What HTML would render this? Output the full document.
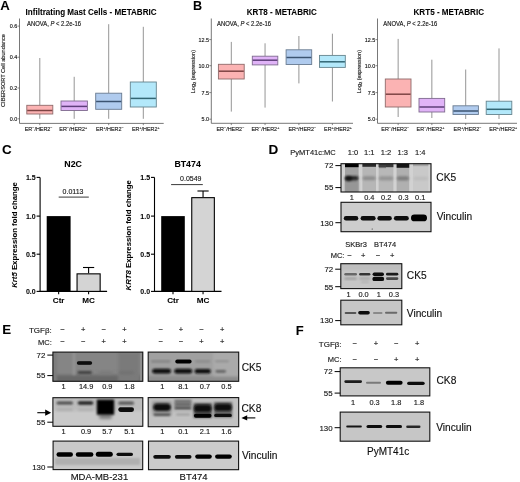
<!DOCTYPE html>
<html><head><meta charset="utf-8"><style>
html,body{margin:0;padding:0;background:#fff;width:520px;height:482px;overflow:hidden}
svg{display:block}
text{stroke:#000;stroke-width:0.22px;stroke-opacity:0.55}
text[font-weight=bold]{stroke-width:0.1px}
</style></head><body>
<svg width="520" height="482" viewBox="0 0 520 482" font-family="'Liberation Sans', Arial, sans-serif">
<defs>
<filter id="b04" x="-50%" y="-50%" width="200%" height="200%"><feGaussianBlur stdDeviation="0.4"/></filter>
<filter id="b07" x="-50%" y="-50%" width="200%" height="200%"><feGaussianBlur stdDeviation="0.7"/></filter>
<filter id="b1" x="-50%" y="-50%" width="200%" height="200%"><feGaussianBlur stdDeviation="1"/></filter>
<filter id="b15" x="-50%" y="-100%" width="200%" height="300%"><feGaussianBlur stdDeviation="1.5"/></filter>
<filter id="b25" x="-50%" y="-100%" width="200%" height="300%"><feGaussianBlur stdDeviation="2.5"/></filter>
</defs>
<rect x="0" y="0" width="520" height="482" fill="#fff" />
<text x="0.3" y="10.2" font-size="13.2" font-weight="bold" >A</text>
<text x="25.6" y="15.2" font-size="8.9" font-weight="bold" textLength="131" lengthAdjust="spacingAndGlyphs" >Infiltrating Mast Cells - METABRIC</text>
<text x="27" y="26.1" font-size="6.5" textLength="54" lengthAdjust="spacingAndGlyphs" fill="#111">ANOVA, <tspan font-style="italic">P</tspan> &lt; 2.2e-16</text>
<line x1="39.8" y1="58" x2="39.8" y2="105.3" stroke="#959595" stroke-width="1.0"/>
<line x1="39.8" y1="114" x2="39.8" y2="118.8" stroke="#959595" stroke-width="1.0"/>
<rect x="26.8" y="105.3" width="25.999999999999996" height="8.700000000000003" fill="#fbb3b3" stroke="#8f6a6a" stroke-width="0.9" />
<line x1="27.2" y1="110.5" x2="52.4" y2="110.5" stroke="#7e4444" stroke-width="1.5"/>
<line x1="74.2" y1="76.8" x2="74.2" y2="101" stroke="#959595" stroke-width="1.0"/>
<line x1="74.2" y1="110.5" x2="74.2" y2="118.8" stroke="#959595" stroke-width="1.0"/>
<rect x="61" y="101" width="26.400000000000006" height="9.5" fill="#e0b3f7" stroke="#7f6a8f" stroke-width="0.9" />
<line x1="61.4" y1="106.4" x2="87.0" y2="106.4" stroke="#5e3e7a" stroke-width="1.5"/>
<line x1="108.7" y1="24.2" x2="108.7" y2="93.2" stroke="#959595" stroke-width="1.0"/>
<line x1="108.7" y1="109.3" x2="108.7" y2="118.8" stroke="#959595" stroke-width="1.0"/>
<rect x="95.7" y="93.2" width="26.0" height="16.099999999999994" fill="#b0cbee" stroke="#687a90" stroke-width="0.9" />
<line x1="96.10000000000001" y1="101.5" x2="121.3" y2="101.5" stroke="#3c5472" stroke-width="1.5"/>
<line x1="143.3" y1="26.8" x2="143.3" y2="82" stroke="#959595" stroke-width="1.0"/>
<line x1="143.3" y1="107" x2="143.3" y2="118.8" stroke="#959595" stroke-width="1.0"/>
<rect x="130.3" y="82" width="26.0" height="25" fill="#b3e8fa" stroke="#65848e" stroke-width="0.9" />
<line x1="130.70000000000002" y1="98.4" x2="155.9" y2="98.4" stroke="#326674" stroke-width="1.5"/>
<line x1="19.5" y1="18.5" x2="19.5" y2="123.4" stroke="#555" stroke-width="0.8"/>
<line x1="19.5" y1="123.4" x2="163.7" y2="123.4" stroke="#555" stroke-width="0.8"/>
<line x1="17.5" y1="26.1" x2="19.5" y2="26.1" stroke="#555" stroke-width="0.7"/>
<text x="17.2" y="28.1" font-size="5.4" text-anchor="end" fill="#111" >0.6</text>
<line x1="17.5" y1="57.2" x2="19.5" y2="57.2" stroke="#555" stroke-width="0.7"/>
<text x="17.2" y="59.2" font-size="5.4" text-anchor="end" fill="#111" >0.4</text>
<line x1="17.5" y1="88" x2="19.5" y2="88" stroke="#555" stroke-width="0.7"/>
<text x="17.2" y="90.0" font-size="5.4" text-anchor="end" fill="#111" >0.2</text>
<line x1="17.5" y1="118.8" x2="19.5" y2="118.8" stroke="#555" stroke-width="0.7"/>
<text x="17.2" y="120.8" font-size="5.4" text-anchor="end" fill="#111" >0.0</text>
<line x1="39.8" y1="123.4" x2="39.8" y2="125.2" stroke="#555" stroke-width="0.7"/>
<text x="38.6" y="131.0" font-size="6.2" text-anchor="middle" textLength="27.8" lengthAdjust="spacingAndGlyphs" fill="#222">ER<tspan dy="-1.9" font-size="4.2">−</tspan><tspan dy="1.9">/HER2</tspan><tspan dy="-1.9" font-size="4.2">−</tspan></text>
<line x1="74.2" y1="123.4" x2="74.2" y2="125.2" stroke="#555" stroke-width="0.7"/>
<text x="73.2" y="131.0" font-size="6.2" text-anchor="middle" textLength="27.8" lengthAdjust="spacingAndGlyphs" fill="#222">ER<tspan dy="-1.9" font-size="4.2">−</tspan><tspan dy="1.9">/HER2</tspan><tspan dy="-1.9" font-size="4.2">+</tspan></text>
<line x1="108.7" y1="123.4" x2="108.7" y2="125.2" stroke="#555" stroke-width="0.7"/>
<text x="109.8" y="131.0" font-size="6.2" text-anchor="middle" textLength="27.8" lengthAdjust="spacingAndGlyphs" fill="#222">ER<tspan dy="-1.9" font-size="4.2">+</tspan><tspan dy="1.9">/HER2</tspan><tspan dy="-1.9" font-size="4.2">−</tspan></text>
<line x1="143.3" y1="123.4" x2="143.3" y2="125.2" stroke="#555" stroke-width="0.7"/>
<text x="145.8" y="131.0" font-size="6.2" text-anchor="middle" textLength="27.8" lengthAdjust="spacingAndGlyphs" fill="#222">ER<tspan dy="-1.9" font-size="4.2">+</tspan><tspan dy="1.9">/HER2</tspan><tspan dy="-1.9" font-size="4.2">+</tspan></text>
<text x="4.9" y="70.5" font-size="5.6" text-anchor="middle" fill="#222" transform="rotate(-90 4.9 70.5)" >CIBERSORT Cell abundance</text>
<text x="193.0" y="10.4" font-size="12.6" font-weight="bold" >B</text>
<text x="246.8" y="14.8" font-size="8.9" font-weight="bold" textLength="70" lengthAdjust="spacingAndGlyphs" >KRT8 - METABRIC</text>
<text x="217" y="26.1" font-size="6.5" textLength="54" lengthAdjust="spacingAndGlyphs" fill="#111">ANOVA, <tspan font-style="italic">P</tspan> &lt; 2.2e-16</text>
<line x1="231.3" y1="41.9" x2="231.3" y2="64.3" stroke="#959595" stroke-width="1.0"/>
<line x1="231.3" y1="79" x2="231.3" y2="111.6" stroke="#959595" stroke-width="1.0"/>
<rect x="218.4" y="64.3" width="25.799999999999983" height="14.700000000000003" fill="#fbb3b3" stroke="#8f6a6a" stroke-width="0.9" />
<line x1="218.8" y1="71.2" x2="243.79999999999998" y2="71.2" stroke="#7e4444" stroke-width="1.5"/>
<line x1="265.05" y1="43.3" x2="265.05" y2="56.2" stroke="#959595" stroke-width="1.0"/>
<line x1="265.05" y1="64.9" x2="265.05" y2="107.6" stroke="#959595" stroke-width="1.0"/>
<rect x="252.3" y="56.2" width="25.5" height="8.700000000000003" fill="#e0b3f7" stroke="#7f6a8f" stroke-width="0.9" />
<line x1="252.70000000000002" y1="60.2" x2="277.40000000000003" y2="60.2" stroke="#5e3e7a" stroke-width="1.5"/>
<line x1="298.9" y1="36" x2="298.9" y2="49.8" stroke="#959595" stroke-width="1.0"/>
<line x1="298.9" y1="64.5" x2="298.9" y2="83.4" stroke="#959595" stroke-width="1.0"/>
<rect x="286.1" y="49.8" width="25.599999999999966" height="14.700000000000003" fill="#b0cbee" stroke="#687a90" stroke-width="0.9" />
<line x1="286.5" y1="57.5" x2="311.3" y2="57.5" stroke="#3c5472" stroke-width="1.5"/>
<line x1="332.4" y1="33.7" x2="332.4" y2="55.4" stroke="#959595" stroke-width="1.0"/>
<line x1="332.4" y1="67.4" x2="332.4" y2="101.5" stroke="#959595" stroke-width="1.0"/>
<rect x="319.5" y="55.4" width="25.80000000000001" height="12.000000000000007" fill="#b3e8fa" stroke="#65848e" stroke-width="0.9" />
<line x1="319.9" y1="61.8" x2="344.90000000000003" y2="61.8" stroke="#326674" stroke-width="1.5"/>
<line x1="211.3" y1="18.5" x2="211.3" y2="123.3" stroke="#555" stroke-width="0.8"/>
<line x1="211.3" y1="123.3" x2="353" y2="123.3" stroke="#555" stroke-width="0.8"/>
<line x1="209.3" y1="39.6" x2="211.3" y2="39.6" stroke="#555" stroke-width="0.7"/>
<text x="209.0" y="41.6" font-size="5.4" text-anchor="end" fill="#111" >12.5</text>
<line x1="209.3" y1="65.7" x2="211.3" y2="65.7" stroke="#555" stroke-width="0.7"/>
<text x="209.0" y="67.7" font-size="5.4" text-anchor="end" fill="#111" >10.0</text>
<line x1="209.3" y1="92.6" x2="211.3" y2="92.6" stroke="#555" stroke-width="0.7"/>
<text x="209.0" y="94.6" font-size="5.4" text-anchor="end" fill="#111" >7.5</text>
<line x1="209.3" y1="119.2" x2="211.3" y2="119.2" stroke="#555" stroke-width="0.7"/>
<text x="209.0" y="121.2" font-size="5.4" text-anchor="end" fill="#111" >5.0</text>
<line x1="231.3" y1="123.3" x2="231.3" y2="125.1" stroke="#555" stroke-width="0.7"/>
<text x="230.4" y="130.9" font-size="6.2" text-anchor="middle" textLength="27.8" lengthAdjust="spacingAndGlyphs" fill="#222">ER<tspan dy="-1.9" font-size="4.2">−</tspan><tspan dy="1.9">/HER2</tspan><tspan dy="-1.9" font-size="4.2">−</tspan></text>
<line x1="265.05" y1="123.3" x2="265.05" y2="125.1" stroke="#555" stroke-width="0.7"/>
<text x="265.4" y="130.9" font-size="6.2" text-anchor="middle" textLength="27.8" lengthAdjust="spacingAndGlyphs" fill="#222">ER<tspan dy="-1.9" font-size="4.2">−</tspan><tspan dy="1.9">/HER2</tspan><tspan dy="-1.9" font-size="4.2">+</tspan></text>
<line x1="298.9" y1="123.3" x2="298.9" y2="125.1" stroke="#555" stroke-width="0.7"/>
<text x="302.3" y="130.9" font-size="6.2" text-anchor="middle" textLength="27.8" lengthAdjust="spacingAndGlyphs" fill="#222">ER<tspan dy="-1.9" font-size="4.2">+</tspan><tspan dy="1.9">/HER2</tspan><tspan dy="-1.9" font-size="4.2">−</tspan></text>
<line x1="332.4" y1="123.3" x2="332.4" y2="125.1" stroke="#555" stroke-width="0.7"/>
<text x="338.0" y="130.9" font-size="6.2" text-anchor="middle" textLength="27.8" lengthAdjust="spacingAndGlyphs" fill="#222">ER<tspan dy="-1.9" font-size="4.2">+</tspan><tspan dy="1.9">/HER2</tspan><tspan dy="-1.9" font-size="4.2">+</tspan></text>
<text x="194.6" y="71.6" font-size="5.5" text-anchor="middle" fill="#222" transform="rotate(-90 194.6 71.6)">Log<tspan dy="1.3" font-size="4">2</tspan><tspan dy="-1.3"> (expression)</tspan></text>
<text x="413.5" y="14.8" font-size="8.9" font-weight="bold" textLength="70.5" lengthAdjust="spacingAndGlyphs" >KRT5 - METABRIC</text>
<text x="383.3" y="26.1" font-size="6.5" textLength="54" lengthAdjust="spacingAndGlyphs" fill="#111">ANOVA, <tspan font-style="italic">P</tspan> &lt; 2.2e-16</text>
<line x1="398.15" y1="38.9" x2="398.15" y2="79" stroke="#959595" stroke-width="1.0"/>
<line x1="398.15" y1="107" x2="398.15" y2="117" stroke="#959595" stroke-width="1.0"/>
<rect x="385.3" y="79" width="25.69999999999999" height="28" fill="#fbb3b3" stroke="#8f6a6a" stroke-width="0.9" />
<line x1="385.7" y1="94.2" x2="410.6" y2="94.2" stroke="#7e4444" stroke-width="1.5"/>
<line x1="431.85" y1="59.7" x2="431.85" y2="98.4" stroke="#959595" stroke-width="1.0"/>
<line x1="431.85" y1="112" x2="431.85" y2="118" stroke="#959595" stroke-width="1.0"/>
<rect x="419" y="98.4" width="25.69999999999999" height="13.599999999999994" fill="#e0b3f7" stroke="#7f6a8f" stroke-width="0.9" />
<line x1="419.4" y1="107" x2="444.3" y2="107" stroke="#5e3e7a" stroke-width="1.5"/>
<line x1="465.7" y1="69.5" x2="465.7" y2="105.8" stroke="#959595" stroke-width="1.0"/>
<line x1="465.7" y1="114.5" x2="465.7" y2="119" stroke="#959595" stroke-width="1.0"/>
<rect x="453" y="105.8" width="25.399999999999977" height="8.700000000000003" fill="#b0cbee" stroke="#687a90" stroke-width="0.9" />
<line x1="453.4" y1="111" x2="478.0" y2="111" stroke="#3c5472" stroke-width="1.5"/>
<line x1="499.0" y1="48.4" x2="499.0" y2="101.2" stroke="#959595" stroke-width="1.0"/>
<line x1="499.0" y1="114.5" x2="499.0" y2="119" stroke="#959595" stroke-width="1.0"/>
<rect x="486.2" y="101.2" width="25.600000000000023" height="13.299999999999997" fill="#b3e8fa" stroke="#65848e" stroke-width="0.9" />
<line x1="486.59999999999997" y1="109.3" x2="511.40000000000003" y2="109.3" stroke="#326674" stroke-width="1.5"/>
<line x1="377.5" y1="18.5" x2="377.5" y2="123.3" stroke="#555" stroke-width="0.8"/>
<line x1="377.5" y1="123.3" x2="517" y2="123.3" stroke="#555" stroke-width="0.8"/>
<line x1="375.5" y1="39.6" x2="377.5" y2="39.6" stroke="#555" stroke-width="0.7"/>
<text x="375.2" y="41.6" font-size="5.4" text-anchor="end" fill="#111" >12.5</text>
<line x1="375.5" y1="65.7" x2="377.5" y2="65.7" stroke="#555" stroke-width="0.7"/>
<text x="375.2" y="67.7" font-size="5.4" text-anchor="end" fill="#111" >10.0</text>
<line x1="375.5" y1="92.6" x2="377.5" y2="92.6" stroke="#555" stroke-width="0.7"/>
<text x="375.2" y="94.6" font-size="5.4" text-anchor="end" fill="#111" >7.5</text>
<line x1="375.5" y1="119.2" x2="377.5" y2="119.2" stroke="#555" stroke-width="0.7"/>
<text x="375.2" y="121.2" font-size="5.4" text-anchor="end" fill="#111" >5.0</text>
<line x1="398.15" y1="123.3" x2="398.15" y2="125.1" stroke="#555" stroke-width="0.7"/>
<text x="395.2" y="130.9" font-size="6.2" text-anchor="middle" textLength="27.8" lengthAdjust="spacingAndGlyphs" fill="#222">ER<tspan dy="-1.9" font-size="4.2">−</tspan><tspan dy="1.9">/HER2</tspan><tspan dy="-1.9" font-size="4.2">−</tspan></text>
<line x1="431.85" y1="123.3" x2="431.85" y2="125.1" stroke="#555" stroke-width="0.7"/>
<text x="430.5" y="130.9" font-size="6.2" text-anchor="middle" textLength="27.8" lengthAdjust="spacingAndGlyphs" fill="#222">ER<tspan dy="-1.9" font-size="4.2">−</tspan><tspan dy="1.9">/HER2</tspan><tspan dy="-1.9" font-size="4.2">+</tspan></text>
<line x1="465.7" y1="123.3" x2="465.7" y2="125.1" stroke="#555" stroke-width="0.7"/>
<text x="467.5" y="130.9" font-size="6.2" text-anchor="middle" textLength="27.8" lengthAdjust="spacingAndGlyphs" fill="#222">ER<tspan dy="-1.9" font-size="4.2">+</tspan><tspan dy="1.9">/HER2</tspan><tspan dy="-1.9" font-size="4.2">−</tspan></text>
<line x1="499.0" y1="123.3" x2="499.0" y2="125.1" stroke="#555" stroke-width="0.7"/>
<text x="503.2" y="130.9" font-size="6.2" text-anchor="middle" textLength="27.8" lengthAdjust="spacingAndGlyphs" fill="#222">ER<tspan dy="-1.9" font-size="4.2">+</tspan><tspan dy="1.9">/HER2</tspan><tspan dy="-1.9" font-size="4.2">+</tspan></text>
<text x="360.6" y="71.6" font-size="5.5" text-anchor="middle" fill="#222" transform="rotate(-90 360.6 71.6)">Log<tspan dy="1.3" font-size="4">2</tspan><tspan dy="-1.3"> (expression)</tspan></text>
<text x="2.0" y="154.2" font-size="13.4" font-weight="bold" >C</text>
<text x="73.1" y="167" font-size="8.8" font-weight="bold" text-anchor="middle" >N2C</text>
<line x1="40.1" y1="177.4" x2="40.1" y2="291.6" stroke="#000" stroke-width="1.1"/>
<line x1="39.6" y1="291.4" x2="107.1" y2="291.4" stroke="#000" stroke-width="1.1"/>
<line x1="36.6" y1="177.4" x2="40.1" y2="177.4" stroke="#000" stroke-width="1.1"/>
<text x="35.7" y="179.9" font-size="7" font-weight="bold" text-anchor="end" >1.5</text>
<line x1="36.6" y1="216.1" x2="40.1" y2="216.1" stroke="#000" stroke-width="1.1"/>
<text x="35.7" y="218.6" font-size="7" font-weight="bold" text-anchor="end" >1.0</text>
<line x1="36.6" y1="254.2" x2="40.1" y2="254.2" stroke="#000" stroke-width="1.1"/>
<text x="35.7" y="256.7" font-size="7" font-weight="bold" text-anchor="end" >0.5</text>
<line x1="36.6" y1="291.4" x2="40.1" y2="291.4" stroke="#000" stroke-width="1.1"/>
<text x="35.7" y="293.9" font-size="7" font-weight="bold" text-anchor="end" >0.0</text>
<rect x="46.7" y="216.1" width="23.89999999999999" height="75.29999999999998" fill="#000" />
<line x1="88.6" y1="273.3" x2="88.6" y2="267.5" stroke="#000" stroke-width="1.1"/>
<line x1="83.0" y1="267.5" x2="94.19999999999999" y2="267.5" stroke="#000" stroke-width="1.1"/>
<rect x="77.05" y="273.85" width="23.1" height="17.549999999999965" fill="#d4d4d4" stroke="#000" stroke-width="1.1" />
<line x1="58.65" y1="291.4" x2="58.65" y2="294.2" stroke="#000" stroke-width="1.1"/>
<text x="58.65" y="302.9" font-size="8.1" font-weight="bold" text-anchor="middle" >Ctr</text>
<line x1="88.6" y1="291.4" x2="88.6" y2="294.2" stroke="#000" stroke-width="1.1"/>
<text x="88.6" y="302.9" font-size="8.1" font-weight="bold" text-anchor="middle" >MC</text>
<text x="62.6" y="194.1" font-size="7" fill="#222" >0.0113</text>
<line x1="58.7" y1="197.1" x2="88.8" y2="197.1" stroke="#222" stroke-width="0.9"/>
<text x="17.1" y="235" font-size="7.8" font-weight="bold" text-anchor="middle" transform="rotate(-90 17.1 235)"><tspan font-style="italic">Krt5</tspan> Expression fold change</text>
<text x="187.6" y="167" font-size="8.8" font-weight="bold" text-anchor="middle" >BT474</text>
<line x1="154.5" y1="177.4" x2="154.5" y2="291.6" stroke="#000" stroke-width="1.1"/>
<line x1="154.0" y1="291.4" x2="221.5" y2="291.4" stroke="#000" stroke-width="1.1"/>
<line x1="151.0" y1="177.4" x2="154.5" y2="177.4" stroke="#000" stroke-width="1.1"/>
<text x="150.1" y="179.9" font-size="7" font-weight="bold" text-anchor="end" >1.5</text>
<line x1="151.0" y1="216.1" x2="154.5" y2="216.1" stroke="#000" stroke-width="1.1"/>
<text x="150.1" y="218.6" font-size="7" font-weight="bold" text-anchor="end" >1.0</text>
<line x1="151.0" y1="254.2" x2="154.5" y2="254.2" stroke="#000" stroke-width="1.1"/>
<text x="150.1" y="256.7" font-size="7" font-weight="bold" text-anchor="end" >0.5</text>
<line x1="151.0" y1="291.4" x2="154.5" y2="291.4" stroke="#000" stroke-width="1.1"/>
<text x="150.1" y="293.9" font-size="7" font-weight="bold" text-anchor="end" >0.0</text>
<rect x="161.2" y="216.1" width="23.600000000000023" height="75.29999999999998" fill="#000" />
<line x1="203.05" y1="197.1" x2="203.05" y2="191" stroke="#000" stroke-width="1.1"/>
<line x1="197.45000000000002" y1="191" x2="208.65" y2="191" stroke="#000" stroke-width="1.1"/>
<rect x="191.75" y="197.65" width="22.600000000000016" height="93.74999999999999" fill="#d4d4d4" stroke="#000" stroke-width="1.1" />
<line x1="173.0" y1="291.4" x2="173.0" y2="294.2" stroke="#000" stroke-width="1.1"/>
<text x="173.0" y="302.9" font-size="8.1" font-weight="bold" text-anchor="middle" >Ctr</text>
<line x1="203.05" y1="291.4" x2="203.05" y2="294.2" stroke="#000" stroke-width="1.1"/>
<text x="203.05" y="302.9" font-size="8.1" font-weight="bold" text-anchor="middle" >MC</text>
<text x="180.1" y="180.9" font-size="7" fill="#222" >0.0549</text>
<line x1="171.1" y1="184.6" x2="202.8" y2="184.6" stroke="#222" stroke-width="0.9"/>
<text x="131.1" y="235.2" font-size="7.8" font-weight="bold" text-anchor="middle" transform="rotate(-90 131.1 235.2)"><tspan font-style="italic">KRT8</tspan> Expression fold change</text>
<text x="268.4" y="154.0" font-size="13.5" font-weight="bold" >D</text>
<text x="290.3" y="154.9" font-size="7.5" fill="#222" >PyMT41c:MC</text>
<text x="353" y="155.1" font-size="7.5" text-anchor="middle" fill="#222" >1:0</text>
<text x="369.3" y="155.1" font-size="7.5" text-anchor="middle" fill="#222" >1:1</text>
<text x="386" y="155.1" font-size="7.5" text-anchor="middle" fill="#222" >1:2</text>
<text x="402.8" y="155.1" font-size="7.5" text-anchor="middle" fill="#222" >1:3</text>
<text x="420.2" y="155.1" font-size="7.5" text-anchor="middle" fill="#222" >1:4</text>
<clipPath id="c1"><rect x="341" y="163.7" width="90" height="28.30000000000001"/></clipPath>
<g clip-path="url(#c1)">
<rect x="341" y="163.7" width="90" height="28.30000000000001" fill="#d2d2d2" />
<rect x="345" y="163" width="13.600000000000023" height="30" fill="#a2a2a2" opacity="1" filter="url(#b07)"/>
<rect x="362.4" y="163" width="13.600000000000023" height="30" fill="#b6b6b6" opacity="1" filter="url(#b07)"/>
<rect x="378.6" y="163" width="14.799999999999955" height="30" fill="#b8b8b8" opacity="1" filter="url(#b07)"/>
<rect x="396.6" y="163" width="12.599999999999966" height="30" fill="#b0b0b0" opacity="1" filter="url(#b07)"/>
<rect x="413" y="163" width="15.300000000000011" height="30" fill="#c9c9c9" opacity="1" filter="url(#b07)"/>
<rect x="345" y="181" width="13.600000000000023" height="12" fill="#969696" opacity="1" filter="url(#b1)"/>
<rect x="345" y="162" width="13.600000000000023" height="5.199999999999989" fill="#050505" opacity="1" filter="url(#b04)"/>
<rect x="362.4" y="162" width="13.600000000000023" height="4.800000000000011" fill="#2c2c2c" opacity="1" filter="url(#b04)"/>
<rect x="378.6" y="162" width="14.799999999999955" height="5.199999999999989" fill="#383838" opacity="1" filter="url(#b04)"/>
<rect x="379" y="165" width="7" height="3.1999999999999886" fill="#4a4a4a" opacity="0.5" filter="url(#b07)"/>
<rect x="396.6" y="162" width="12.599999999999966" height="5.800000000000011" fill="#161616" opacity="1" filter="url(#b04)"/>
<rect x="413" y="162" width="15.300000000000011" height="4.199999999999989" fill="#a6a6a6" opacity="1" filter="url(#b04)"/>
<rect x="345" y="176.10000000000002" width="13.5" height="4.4" rx="2.2" fill="#2a2a2a" opacity="1" filter="url(#b1)"/>
<ellipse cx="348.5" cy="178.6" rx="3.6" ry="2.6" fill="#000000" opacity="0.6" filter="url(#b1)"/>
<rect x="362.6" y="176.2" width="13.0" height="4.0" rx="2.0" fill="#8e8e8e" opacity="1" filter="url(#b1)"/>
<rect x="378.8" y="176.3" width="14.399999999999977" height="4.2" rx="2.1" fill="#959595" opacity="1" filter="url(#b1)"/>
<rect x="396.8" y="176.3" width="12.199999999999989" height="4.2" rx="2.1" fill="#7e7e7e" opacity="1" filter="url(#b1)"/>
<rect x="413.5" y="176.65" width="14.5" height="3.5" rx="1.75" fill="#bdbdbd" opacity="1" filter="url(#b1)"/>
</g>
<rect x="341" y="163.7" width="90" height="28.30000000000001" fill="none" stroke="#111" stroke-width="1.1" />
<line x1="335.4" y1="165.6" x2="341" y2="165.6" stroke="#000" stroke-width="1.0"/>
<text x="333.4" y="168.4" font-size="7.9" text-anchor="end" fill="#1a1a1a" >72</text>
<line x1="335.4" y1="187.6" x2="341" y2="187.6" stroke="#000" stroke-width="1.0"/>
<text x="333.4" y="190.4" font-size="7.9" text-anchor="end" fill="#1a1a1a" >55</text>
<text x="351.8" y="199.8" font-size="7.4" text-anchor="middle" fill="#222" >1</text>
<text x="369.3" y="199.8" font-size="7.4" text-anchor="middle" fill="#222" >0.4</text>
<text x="386.2" y="199.8" font-size="7.4" text-anchor="middle" fill="#222" >0.2</text>
<text x="403.5" y="199.8" font-size="7.4" text-anchor="middle" fill="#222" >0.3</text>
<text x="420.2" y="199.8" font-size="7.4" text-anchor="middle" fill="#222" >0.1</text>
<text x="436.3" y="180.8" font-size="10.2" fill="#111" >CK5</text>
<clipPath id="c2"><rect x="341" y="202.3" width="90" height="29.399999999999977"/></clipPath>
<g clip-path="url(#c2)">
<rect x="341" y="202.3" width="90" height="29.399999999999977" fill="#cdcdcd" />
<rect x="343.8" y="216.10000000000002" width="14.5" height="4.4" rx="2.2" fill="#0a0a0a" opacity="1" filter="url(#b04)"/>
<rect x="360.6" y="216.10000000000002" width="15.0" height="4.4" rx="2.2" fill="#0a0a0a" opacity="1" filter="url(#b04)"/>
<rect x="377.4" y="216.10000000000002" width="14.400000000000034" height="4.4" rx="2.2" fill="#0a0a0a" opacity="1" filter="url(#b04)"/>
<rect x="393.9" y="216.10000000000002" width="14.900000000000034" height="4.4" rx="2.2" fill="#0a0a0a" opacity="1" filter="url(#b04)"/>
<rect x="411.0" y="214.5" width="16.0" height="6.8" rx="3.4" fill="#050505" opacity="1" filter="url(#b04)"/>
<ellipse cx="372.2" cy="229" rx="0.6" ry="0.6" fill="#333" opacity="1" filter="url(#b04)"/>
</g>
<rect x="341" y="202.3" width="90" height="29.399999999999977" fill="none" stroke="#111" stroke-width="1.1" />
<line x1="335.4" y1="222.7" x2="341" y2="222.7" stroke="#000" stroke-width="1.0"/>
<text x="333.4" y="225.5" font-size="7.9" text-anchor="end" fill="#1a1a1a" >130</text>
<text x="436.7" y="219.7" font-size="10.2" fill="#111" >Vinculin</text>
<text x="356" y="246.9" font-size="7.5" text-anchor="middle" fill="#222" >SKBr3</text>
<text x="385.1" y="246.9" font-size="7.5" text-anchor="middle" fill="#222" >BT474</text>
<text x="344.4" y="257.9" font-size="7.5" text-anchor="end" fill="#222" >MC:</text>
<text x="349.4" y="257.9" font-size="7.5" text-anchor="middle" fill="#222" >−</text>
<text x="363.3" y="257.9" font-size="7.5" text-anchor="middle" fill="#222" >+</text>
<text x="378" y="257.9" font-size="7.5" text-anchor="middle" fill="#222" >−</text>
<text x="392.3" y="257.9" font-size="7.5" text-anchor="middle" fill="#222" >+</text>
<clipPath id="c3"><rect x="340.8" y="263.7" width="61.0" height="24.900000000000034"/></clipPath>
<g clip-path="url(#c3)">
<rect x="340.8" y="263.7" width="61.0" height="24.900000000000034" fill="#c6c6c6" />
<rect x="341" y="263" width="61" height="7" fill="#bebebe" opacity="1" filter="url(#b1)"/>
<rect x="344.3" y="273.1" width="12.699999999999989" height="2.4" rx="1.2" fill="#686868" opacity="1" filter="url(#b07)"/>
<rect x="344.3" y="277.40000000000003" width="12.699999999999989" height="2.4" rx="1.2" fill="#9c9c9c" opacity="1" filter="url(#b1)"/>
<rect x="359.1" y="272.9" width="11.299999999999955" height="2.6" rx="1.3" fill="#363636" opacity="1" filter="url(#b07)"/>
<rect x="359.1" y="277.4" width="11.299999999999955" height="2.2" rx="1.1" fill="#a2a2a2" opacity="1" filter="url(#b1)"/>
<rect x="361" y="281.3" width="8" height="1.8" rx="0.9" fill="#b0b0b0" opacity="1" filter="url(#b1)"/>
<rect x="372.6" y="272.6" width="11.399999999999977" height="3.4" rx="1.7" fill="#0c0c0c" opacity="1" filter="url(#b07)"/>
<rect x="372.4" y="276.7" width="11.800000000000011" height="4.4" rx="2.2" fill="#080808" opacity="1" filter="url(#b07)"/>
<rect x="386" y="272.8" width="12.300000000000011" height="2.8" rx="1.4" fill="#1c1c1c" opacity="1" filter="url(#b07)"/>
<rect x="386" y="277.3" width="12.300000000000011" height="2.6" rx="1.3" fill="#484848" opacity="1" filter="url(#b07)"/>
</g>
<rect x="340.8" y="263.7" width="61.0" height="24.900000000000034" fill="none" stroke="#111" stroke-width="1.1" />
<line x1="335.2" y1="269.2" x2="340.8" y2="269.2" stroke="#000" stroke-width="1.0"/>
<text x="333.2" y="272.0" font-size="7.9" text-anchor="end" fill="#1a1a1a" >72</text>
<line x1="335.2" y1="286.7" x2="340.8" y2="286.7" stroke="#000" stroke-width="1.0"/>
<text x="333.2" y="289.5" font-size="7.9" text-anchor="end" fill="#1a1a1a" >55</text>
<text x="348.5" y="296.6" font-size="7.4" text-anchor="middle" fill="#222" >1</text>
<text x="363.6" y="296.6" font-size="7.4" text-anchor="middle" fill="#222" >0.0</text>
<text x="378.8" y="296.6" font-size="7.4" text-anchor="middle" fill="#222" >1</text>
<text x="394" y="296.6" font-size="7.4" text-anchor="middle" fill="#222" >0.3</text>
<text x="406.8" y="279" font-size="10.2" fill="#111" >CK5</text>
<clipPath id="c4"><rect x="340.8" y="300.2" width="61.0" height="24.600000000000023"/></clipPath>
<g clip-path="url(#c4)">
<rect x="340.8" y="300.2" width="61.0" height="24.600000000000023" fill="#c6c6c6" />
<rect x="344.7" y="311.9" width="11.699999999999989" height="2.0" rx="1.0" fill="#555" opacity="1" filter="url(#b07)"/>
<rect x="358.2" y="311.0" width="11.600000000000023" height="3.6" rx="1.8" fill="#080808" opacity="1" filter="url(#b07)"/>
<rect x="373" y="312.1" width="9.5" height="1.8" rx="0.9" fill="#8a8a8a" opacity="1" filter="url(#b07)"/>
<rect x="385" y="311.85" width="12.300000000000011" height="1.9" rx="0.95" fill="#6a6a6a" opacity="1" filter="url(#b07)"/>
</g>
<rect x="340.8" y="300.2" width="61.0" height="24.600000000000023" fill="none" stroke="#111" stroke-width="1.1" />
<line x1="335.2" y1="320.6" x2="340.8" y2="320.6" stroke="#000" stroke-width="1.0"/>
<text x="333.2" y="323.40000000000003" font-size="7.9" text-anchor="end" fill="#1a1a1a" >130</text>
<text x="406.8" y="317.1" font-size="10.2" fill="#111" >Vinculin</text>
<text x="2.3" y="334.4" font-size="13.3" font-weight="bold" >E</text>
<text x="51.8" y="333" font-size="8" text-anchor="end" fill="#222" >TGFβ:</text>
<text x="51.8" y="345" font-size="7.5" text-anchor="end" fill="#222" >MC:</text>
<text x="62.5" y="332.2" font-size="7.5" text-anchor="middle" fill="#222" >−</text>
<text x="83.1" y="332.2" font-size="7.5" text-anchor="middle" fill="#222" >+</text>
<text x="103.8" y="332.2" font-size="7.5" text-anchor="middle" fill="#222" >−</text>
<text x="124.4" y="332.2" font-size="7.5" text-anchor="middle" fill="#222" >+</text>
<text x="62.5" y="343.8" font-size="7.5" text-anchor="middle" fill="#222" >−</text>
<text x="83.1" y="343.8" font-size="7.5" text-anchor="middle" fill="#222" >−</text>
<text x="103.8" y="343.8" font-size="7.5" text-anchor="middle" fill="#222" >+</text>
<text x="124.4" y="343.8" font-size="7.5" text-anchor="middle" fill="#222" >+</text>
<text x="160.8" y="332.2" font-size="7.5" text-anchor="middle" fill="#222" >−</text>
<text x="181" y="332.2" font-size="7.5" text-anchor="middle" fill="#222" >+</text>
<text x="201.5" y="332.2" font-size="7.5" text-anchor="middle" fill="#222" >−</text>
<text x="222.3" y="332.2" font-size="7.5" text-anchor="middle" fill="#222" >+</text>
<text x="160.8" y="343.8" font-size="7.5" text-anchor="middle" fill="#222" >−</text>
<text x="181" y="343.8" font-size="7.5" text-anchor="middle" fill="#222" >−</text>
<text x="201.5" y="343.8" font-size="7.5" text-anchor="middle" fill="#222" >+</text>
<text x="222.3" y="343.8" font-size="7.5" text-anchor="middle" fill="#222" >+</text>
<clipPath id="c5"><rect x="52.9" y="352.1" width="89.9" height="29.19999999999999"/></clipPath>
<g clip-path="url(#c5)">
<rect x="52.9" y="352.1" width="89.9" height="29.19999999999999" fill="#858585" />
<rect x="53" y="375" width="90" height="8" fill="#686868" opacity="1" filter="url(#b15)"/>
<rect x="53" y="352" width="4" height="30" fill="#7c7c7c" opacity="1" filter="url(#b1)"/>
<rect x="118" y="352" width="22" height="30" fill="#7a7a7a" opacity="1" filter="url(#b15)"/>
<rect x="72.5" y="352" width="3.0" height="23" fill="#929292" opacity="1" filter="url(#b1)"/>
<rect x="140" y="352" width="3" height="30" fill="#8e8e8e" opacity="1" filter="url(#b07)"/>
<rect x="76.8" y="361.2" width="15.400000000000006" height="3.6" rx="1.8" fill="#080808" opacity="1" filter="url(#b07)"/>
<rect x="77.5" y="371.2" width="14.5" height="2.6" rx="1.3" fill="#363636" opacity="1" filter="url(#b1)"/>
<rect x="98" y="371.55" width="15" height="2.5" rx="1.25" fill="#787878" opacity="1" filter="url(#b15)"/>
<rect x="119" y="371.55" width="15" height="2.5" rx="1.25" fill="#6e6e6e" opacity="1" filter="url(#b15)"/>
</g>
<rect x="52.9" y="352.1" width="89.9" height="29.19999999999999" fill="none" stroke="#111" stroke-width="1.1" />
<line x1="47.3" y1="355.1" x2="52.9" y2="355.1" stroke="#000" stroke-width="1.0"/>
<text x="45.3" y="357.90000000000003" font-size="7.9" text-anchor="end" fill="#1a1a1a" >72</text>
<line x1="47.3" y1="375.6" x2="52.9" y2="375.6" stroke="#000" stroke-width="1.0"/>
<text x="45.3" y="378.40000000000003" font-size="7.9" text-anchor="end" fill="#1a1a1a" >55</text>
<text x="63.6" y="389.3" font-size="7.4" text-anchor="middle" fill="#222" >1</text>
<text x="86.1" y="389.3" font-size="7.4" text-anchor="middle" fill="#222" >14.9</text>
<text x="107.3" y="389.3" font-size="7.4" text-anchor="middle" fill="#222" >0.9</text>
<text x="129.4" y="389.3" font-size="7.4" text-anchor="middle" fill="#222" >1.8</text>
<clipPath id="c6"><rect x="148.2" y="352.1" width="90.5" height="29.19999999999999"/></clipPath>
<g clip-path="url(#c6)">
<rect x="148.2" y="352.1" width="90.5" height="29.19999999999999" fill="#a0a0a0" />
<rect x="148" y="376" width="91" height="7" fill="#8c8c8c" opacity="1" filter="url(#b15)"/>
<rect x="213" y="352" width="26" height="24" fill="#aaaaaa" opacity="1" filter="url(#b15)"/>
<rect x="151" y="360.2" width="19.5" height="2.2" rx="1.1" fill="#828282" opacity="1" filter="url(#b1)"/>
<rect x="175.3" y="359.6" width="16.299999999999983" height="3.8" rx="1.9" fill="#050505" opacity="1" filter="url(#b07)"/>
<rect x="195" y="360.2" width="15.5" height="2.2" rx="1.1" fill="#8a8a8a" opacity="1" filter="url(#b1)"/>
<rect x="215" y="360.3" width="14" height="2.0" rx="1.0" fill="#909090" opacity="1" filter="url(#b1)"/>
<rect x="152.2" y="368.8" width="18.80000000000001" height="4.8" rx="2.4" fill="#0a0a0a" opacity="1" filter="url(#b1)"/>
<rect x="174.3" y="368.8" width="17.899999999999977" height="4.8" rx="2.4" fill="#080808" opacity="1" filter="url(#b1)"/>
<rect x="194.6" y="369.1" width="16.200000000000017" height="4.4" rx="2.2" fill="#0e0e0e" opacity="1" filter="url(#b1)"/>
<rect x="215.5" y="369.90000000000003" width="10.5" height="2.8" rx="1.4" fill="#626262" opacity="1" filter="url(#b1)"/>
</g>
<rect x="148.2" y="352.1" width="90.5" height="29.19999999999999" fill="none" stroke="#111" stroke-width="1.1" />
<text x="162.2" y="389.3" font-size="7.4" text-anchor="middle" fill="#222" >1</text>
<text x="183.3" y="389.3" font-size="7.4" text-anchor="middle" fill="#222" >8.1</text>
<text x="205.0" y="389.3" font-size="7.4" text-anchor="middle" fill="#222" >0.7</text>
<text x="226.5" y="389.3" font-size="7.4" text-anchor="middle" fill="#222" >0.5</text>
<text x="241.7" y="371.1" font-size="10.2" fill="#111" >CK5</text>
<clipPath id="c7"><rect x="52.9" y="397.7" width="89.9" height="28.600000000000023"/></clipPath>
<g clip-path="url(#c7)">
<rect x="52.9" y="397.7" width="89.9" height="28.600000000000023" fill="#c9c9c9" />
<rect x="53" y="397" width="90" height="14" fill="#bcbcbc" opacity="1" filter="url(#b15)"/>
<rect x="56.5" y="401.4" width="16.5" height="3.2" rx="1.6" fill="#4a4a4a" opacity="1" filter="url(#b1)"/>
<rect x="56.5" y="408.1" width="16.5" height="3.0" rx="1.5" fill="#b0b0b0" opacity="1" filter="url(#b1)"/>
<rect x="77.7" y="401.3" width="15.700000000000003" height="3.4" rx="1.7" fill="#242424" opacity="1" filter="url(#b1)"/>
<rect x="77.7" y="408.1" width="15.700000000000003" height="3.0" rx="1.5" fill="#b2b2b2" opacity="1" filter="url(#b1)"/>
<rect x="99" y="414.0" width="13" height="5" rx="2.5" fill="#808080" opacity="1" filter="url(#b15)"/>
<rect x="96.8" y="399.6" width="17.400000000000006" height="15.199999999999989" fill="#050505" opacity="1" filter="url(#b1)"/>
<rect x="118.3" y="401.59999999999997" width="15.700000000000003" height="3.2" rx="1.6" fill="#585858" opacity="1" filter="url(#b1)"/>
<rect x="118.3" y="407.3" width="15.700000000000003" height="4.6" rx="2.3" fill="#0a0a0a" opacity="1" filter="url(#b07)"/>
</g>
<rect x="52.9" y="397.7" width="89.9" height="28.600000000000023" fill="none" stroke="#111" stroke-width="1.1" />
<line x1="47.3" y1="422.2" x2="52.9" y2="422.2" stroke="#000" stroke-width="1.0"/>
<text x="45.3" y="425.0" font-size="7.9" text-anchor="end" fill="#1a1a1a" >55</text>
<line x1="37.3" y1="412.7" x2="46" y2="412.7" stroke="#000" stroke-width="1.1"/>
<polygon points="45.2,409.6 51.2,412.7 45.2,415.8" fill="#000"/>
<text x="63.6" y="434.1" font-size="7.4" text-anchor="middle" fill="#222" >1</text>
<text x="86.1" y="434.1" font-size="7.4" text-anchor="middle" fill="#222" >0.9</text>
<text x="107.3" y="434.1" font-size="7.4" text-anchor="middle" fill="#222" >5.7</text>
<text x="129.4" y="434.1" font-size="7.4" text-anchor="middle" fill="#222" >5.1</text>
<clipPath id="c8"><rect x="148.2" y="397.6" width="90.5" height="29.099999999999966"/></clipPath>
<g clip-path="url(#c8)">
<rect x="148.2" y="397.6" width="90.5" height="29.099999999999966" fill="#c2c2c2" />
<rect x="152" y="401" width="20" height="12" fill="#9a9a9a" opacity="1" filter="url(#b15)"/>
<rect x="153.3" y="403.5" width="17.5" height="7.6" rx="3.8" fill="#0a0a0a" opacity="1" filter="url(#b1)"/>
<rect x="153.3" y="413.20000000000005" width="17.5" height="2.8" rx="1.4" fill="#4e4e4e" opacity="1" filter="url(#b1)"/>
<rect x="174" y="399" width="18" height="12" fill="#a4a4a4" opacity="1" filter="url(#b1)"/>
<rect x="174.5" y="400.5" width="16.69999999999999" height="2.0" rx="1.0" fill="#5a5a5a" opacity="1" filter="url(#b1)"/>
<rect x="174.5" y="403.6" width="16.69999999999999" height="2.0" rx="1.0" fill="#4c4c4c" opacity="1" filter="url(#b1)"/>
<rect x="174.5" y="406.7" width="16.69999999999999" height="2.2" rx="1.1" fill="#424242" opacity="1" filter="url(#b1)"/>
<rect x="176" y="413.6" width="14" height="2.0" rx="1.0" fill="#9c9c9c" opacity="1" filter="url(#b1)"/>
<rect x="193.5" y="403" width="18.5" height="15" fill="#5a5a5a" opacity="1" filter="url(#b1)"/>
<rect x="193.9" y="404.7" width="17.599999999999994" height="7.4" rx="3.7" fill="#080808" opacity="1" filter="url(#b1)"/>
<rect x="193.9" y="413.8" width="17.599999999999994" height="4.0" rx="2.0" fill="#050505" opacity="1" filter="url(#b07)"/>
<rect x="213.8" y="402" width="18.399999999999977" height="15.5" fill="#6a6a6a" opacity="1" filter="url(#b1)"/>
<rect x="214.2" y="403.79999999999995" width="17.600000000000023" height="7.2" rx="3.6" fill="#0c0c0c" opacity="1" filter="url(#b1)"/>
<rect x="214.2" y="413.7" width="17.600000000000023" height="3.4" rx="1.7" fill="#101010" opacity="1" filter="url(#b07)"/>
</g>
<rect x="148.2" y="397.6" width="90.5" height="29.099999999999966" fill="none" stroke="#111" stroke-width="1.1" />
<text x="241.5" y="411.8" font-size="10.2" fill="#111" >CK8</text>
<line x1="246" y1="417.9" x2="255.3" y2="417.9" stroke="#000" stroke-width="1.1"/>
<polygon points="247.2,415.2 241.4,417.9 247.2,420.6" fill="#000"/>
<text x="162.2" y="434.1" font-size="7.4" text-anchor="middle" fill="#222" >1</text>
<text x="183.3" y="434.1" font-size="7.4" text-anchor="middle" fill="#222" >0.1</text>
<text x="205.0" y="434.1" font-size="7.4" text-anchor="middle" fill="#222" >2.1</text>
<text x="226.5" y="434.1" font-size="7.4" text-anchor="middle" fill="#222" >1.6</text>
<clipPath id="c9"><rect x="53.1" y="441.1" width="89.6" height="28.5"/></clipPath>
<g clip-path="url(#c9)">
<rect x="53.1" y="441.1" width="89.6" height="28.5" fill="#c9c9c9" />
<rect x="55" y="458" width="85" height="7" fill="#b0b0b0" opacity="1" filter="url(#b1)"/>
<rect x="56.5" y="452.3" width="16.5" height="4.4" rx="2.2" fill="#060606" opacity="1" filter="url(#b04)"/>
<rect x="75.8" y="452.3" width="17.60000000000001" height="4.4" rx="2.2" fill="#060606" opacity="1" filter="url(#b04)"/>
<rect x="95.8" y="451.8" width="17.0" height="5.0" rx="2.5" fill="#040404" opacity="1" filter="url(#b04)"/>
<rect x="116.5" y="452.7" width="16.5" height="3.2" rx="1.6" fill="#0a0a0a" opacity="1" filter="url(#b04)"/>
</g>
<rect x="53.1" y="441.1" width="89.6" height="28.5" fill="none" stroke="#111" stroke-width="1.1" />
<line x1="47.3" y1="467" x2="52.9" y2="467" stroke="#000" stroke-width="1.0"/>
<text x="45.3" y="469.8" font-size="7.9" text-anchor="end" fill="#1a1a1a" >130</text>
<text x="99.4" y="480.2" font-size="9.5" text-anchor="middle" fill="#111" >MDA-MB-231</text>
<clipPath id="c10"><rect x="148.5" y="441.1" width="90.1" height="28.599999999999966"/></clipPath>
<g clip-path="url(#c10)">
<rect x="148.5" y="441.1" width="90.1" height="28.599999999999966" fill="#cbcbcb" />
<rect x="153.3" y="454.90000000000003" width="17.5" height="3.8" rx="1.9" fill="#0a0a0a" opacity="1" filter="url(#b04)"/>
<rect x="174.9" y="454.90000000000003" width="16.599999999999994" height="3.8" rx="1.9" fill="#0a0a0a" opacity="1" filter="url(#b04)"/>
<rect x="195.2" y="454.40000000000003" width="16.600000000000023" height="4.4" rx="2.2" fill="#060606" opacity="1" filter="url(#b04)"/>
<rect x="215.1" y="454.40000000000003" width="16.700000000000017" height="4.4" rx="2.2" fill="#060606" opacity="1" filter="url(#b04)"/>
</g>
<rect x="148.5" y="441.1" width="90.1" height="28.599999999999966" fill="none" stroke="#111" stroke-width="1.1" />
<text x="193.6" y="480.2" font-size="9.5" text-anchor="middle" fill="#111" >BT474</text>
<text x="241.9" y="458.9" font-size="10.2" fill="#111" >Vinculin</text>
<text x="295.8" y="334.6" font-size="13" font-weight="bold" >F</text>
<text x="341.6" y="347.1" font-size="8" text-anchor="end" fill="#222" >TGFβ:</text>
<text x="341.6" y="362.3" font-size="7.5" text-anchor="end" fill="#222" >MC:</text>
<text x="354.7" y="346.4" font-size="7.5" text-anchor="middle" fill="#222" >−</text>
<text x="375.9" y="346.4" font-size="7.5" text-anchor="middle" fill="#222" >+</text>
<text x="396.3" y="346.4" font-size="7.5" text-anchor="middle" fill="#222" >−</text>
<text x="417.1" y="346.4" font-size="7.5" text-anchor="middle" fill="#222" >+</text>
<text x="354.7" y="361.6" font-size="7.5" text-anchor="middle" fill="#222" >−</text>
<text x="375.9" y="361.6" font-size="7.5" text-anchor="middle" fill="#222" >−</text>
<text x="396.3" y="361.6" font-size="7.5" text-anchor="middle" fill="#222" >+</text>
<text x="417.1" y="361.6" font-size="7.5" text-anchor="middle" fill="#222" >+</text>
<clipPath id="c11"><rect x="340.2" y="367.8" width="89.60000000000002" height="28.099999999999966"/></clipPath>
<g clip-path="url(#c11)">
<rect x="340.2" y="367.8" width="89.60000000000002" height="28.099999999999966" fill="#c8c8c8" />
<rect x="344.4" y="380.3" width="17.600000000000023" height="2.6" rx="1.3" fill="#1a1a1a" opacity="1" filter="url(#b07)"/>
<rect x="366" y="381.85" width="15" height="1.9" rx="0.95" fill="#7a7a7a" opacity="1" filter="url(#b07)"/>
<rect x="385.9" y="380.8" width="16.700000000000045" height="4.0" rx="2.0" fill="#060606" opacity="1" filter="url(#b07)"/>
<rect x="407.1" y="381.7" width="17.599999999999966" height="3.2" rx="1.6" fill="#0e0e0e" opacity="1" filter="url(#b07)"/>
</g>
<rect x="340.2" y="367.8" width="89.60000000000002" height="28.099999999999966" fill="none" stroke="#111" stroke-width="1.1" />
<line x1="334.59999999999997" y1="371.6" x2="340.2" y2="371.6" stroke="#000" stroke-width="1.0"/>
<text x="332.59999999999997" y="374.40000000000003" font-size="7.9" text-anchor="end" fill="#1a1a1a" >72</text>
<line x1="334.59999999999997" y1="393.1" x2="340.2" y2="393.1" stroke="#000" stroke-width="1.0"/>
<text x="332.59999999999997" y="395.90000000000003" font-size="7.9" text-anchor="end" fill="#1a1a1a" >55</text>
<text x="353" y="405" font-size="7.4" text-anchor="middle" fill="#222" >1</text>
<text x="374.6" y="405" font-size="7.4" text-anchor="middle" fill="#222" >0.3</text>
<text x="396.2" y="405" font-size="7.4" text-anchor="middle" fill="#222" >1.8</text>
<text x="419" y="405" font-size="7.4" text-anchor="middle" fill="#222" >1.8</text>
<text x="436.5" y="383.7" font-size="10.2" fill="#111" >CK8</text>
<clipPath id="c12"><rect x="340.2" y="412.1" width="89.60000000000002" height="29.099999999999966"/></clipPath>
<g clip-path="url(#c12)">
<rect x="340.2" y="412.1" width="89.60000000000002" height="29.099999999999966" fill="#c6c6c6" />
<rect x="346.2" y="425.4" width="15.699999999999989" height="2.2" rx="1.1" fill="#181818" opacity="1" filter="url(#b07)"/>
<rect x="366.5" y="425.1" width="15.699999999999989" height="3.0" rx="1.5" fill="#0a0a0a" opacity="1" filter="url(#b07)"/>
<rect x="385.9" y="425.1" width="16.100000000000023" height="3.0" rx="1.5" fill="#0a0a0a" opacity="1" filter="url(#b07)"/>
<rect x="406.2" y="425.45" width="14.300000000000011" height="2.5" rx="1.25" fill="#282828" opacity="1" filter="url(#b07)"/>
</g>
<rect x="340.2" y="412.1" width="89.60000000000002" height="29.099999999999966" fill="none" stroke="#111" stroke-width="1.1" />
<line x1="334.59999999999997" y1="427.7" x2="340.2" y2="427.7" stroke="#000" stroke-width="1.0"/>
<text x="332.59999999999997" y="430.5" font-size="7.9" text-anchor="end" fill="#1a1a1a" >130</text>
<text x="436.2" y="431.3" font-size="10.2" fill="#111" >Vinculin</text>
<text x="388.1" y="454.9" font-size="10" text-anchor="middle" fill="#111" >PyMT41c</text>
</svg>
</body></html>
